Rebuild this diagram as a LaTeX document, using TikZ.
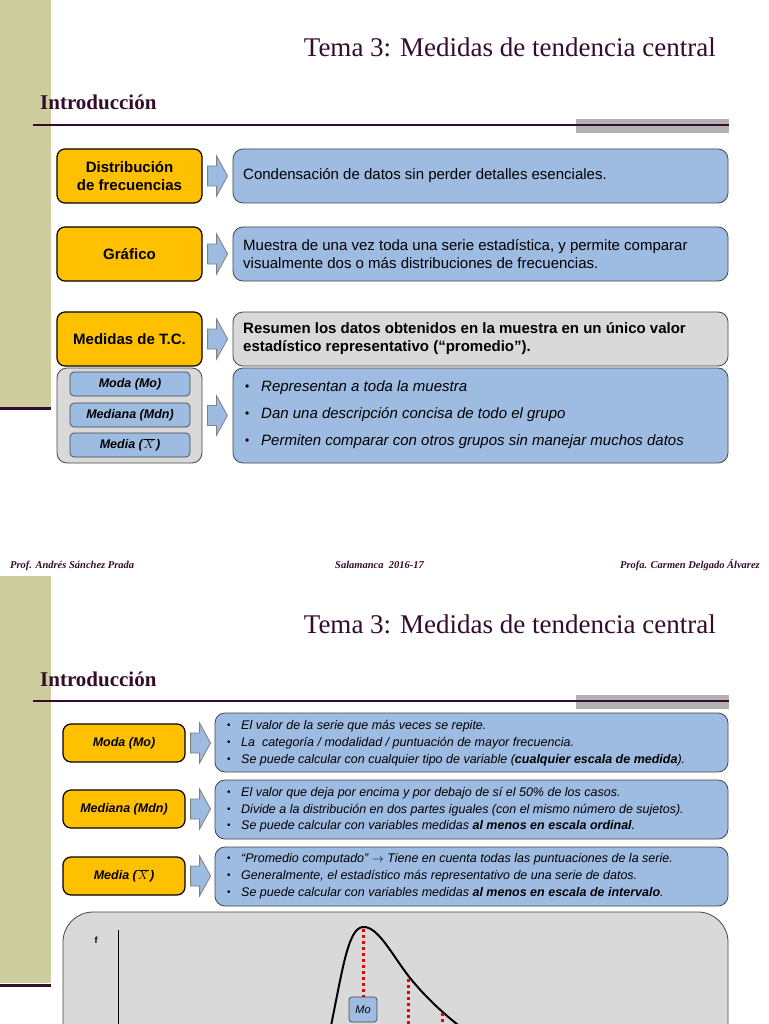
\documentclass[tikz,border=0pt]{standalone}
\usepackage{fontspec}
\setmainfont{Liberation Serif}
\setsansfont{Liberation Sans}
\usetikzlibrary{calc}
\definecolor{olivebar}{RGB}{206,205,157}
\definecolor{plum}{RGB}{52,12,45}
\definecolor{orng}{RGB}{255,192,0}
\definecolor{lblue}{RGB}{158,187,226}
\definecolor{lgray}{RGB}{217,217,217}
\definecolor{bordergray}{RGB}{70,70,70}
\definecolor{bargray}{RGB}{178,178,178}
\definecolor{dotred}{RGB}{235,0,0}
\tikzset{
  obox/.style={draw=black, line width=1.2pt, fill=orng, rounded corners=8pt, inner sep=0pt, align=center, text=black},
  olabel/.style={font=\sffamily\bfseries\fontsize{15}{18}\selectfont},
  olabelsm/.style={font=\sffamily\bfseries\itshape\fontsize{12.5}{15}\selectfont},
  bbox/.style={draw=bordergray, line width=0.8pt, fill=lblue, rounded corners=10pt, inner sep=0pt},
  gbox/.style={draw=bordergray, line width=0.8pt, fill=lgray, rounded corners=10pt, inner sep=0pt},
  sbox/.style={draw=bordergray, line width=0.7pt, fill=lblue, rounded corners=4pt, inner sep=0pt, minimum width=120pt, minimum height=24pt, font=\sffamily\bfseries\itshape\fontsize{12.5}{14}\selectfont},
  txt/.style={inner sep=0pt, anchor=west, align=left, font=\sffamily\fontsize{15}{18}\selectfont},
  btxt/.style={inner sep=0pt, anchor=west, align=left, font=\sffamily\bfseries\fontsize{15}{18}\selectfont},
  itxt/.style={inner sep=0pt, anchor=west, font=\sffamily\itshape\fontsize{15}{17}\selectfont},
  bul/.style={inner sep=0pt, anchor=west, font=\sffamily\fontsize{12}{14}\selectfont},
  sitxt/.style={inner sep=0pt, anchor=west, font=\sffamily\itshape\fontsize{12.5}{14}\selectfont},
  sbul/.style={inner sep=0pt, anchor=west, font=\sffamily\fontsize{10}{12}\selectfont},
  barrowstyle/.style={draw=gray, line width=0.8pt, fill=lblue},
  titlefont/.style={inner sep=0pt, text=plum, font=\fontsize{27}{30}\selectfont},
  introfont/.style={inner sep=0pt, text=plum, font=\bfseries\fontsize{21}{24}\selectfont},
  footfont/.style={inner sep=0pt, text=plum, font=\bfseries\itshape\fontsize{10.5}{12}\selectfont},
  plumline/.style={draw=plum, line width=2pt},
  reddot/.style={draw=dotred, line width=3pt, dash pattern=on 3pt off 3pt},
}
\newcommand\blockarr[1]{\draw[barrowstyle] ($(#1.east)+(5,-10)$) -- ++(9,0) -- ++(0,-10) -- ++(11,20) -- ++(-11,20) -- ++(0,-10) -- ++(-9,0) -- cycle;}
\newcommand\xbar{\kern1pt$\overline{X}$\kern1.5pt}
\begin{document}
\begin{tikzpicture}[x=1pt,y=-1pt]
\useasboundingbox (0,0) rectangle (768,1024);
\clip (0,0) rectangle (768,1024);
\fill[white] (0,0) rectangle (768,1024);

% ---------- slide 1 header ----------
\fill[olivebar] (0,0) rectangle (51,407);
\draw[plumline, line width=3pt] (0,408) -- (51,408);
\node[titlefont, anchor=base east] (title1) at (716,57) {Tema 3: Medidas de tendencia central};
\node[introfont, anchor=base west] (intro1) at (40,110) {Introducción};
\fill[bargray] (576,119) rectangle (729,133);
\draw[plumline] (33,125) -- (729,125);

% ---------- slide 1 boxes ----------
\node[obox, olabel, minimum width=145pt, minimum height=54pt] (dist) at (129.5,176) {Distribución\\de frecuencias};
\node[bbox, minimum width=495pt, minimum height=54pt] (cond) at (480.5,176) {};
\node[txt] (condt) at (243,176) {Condensación de datos sin perder detalles esenciales.};
\blockarr{dist}

\node[obox, olabel, minimum width=145pt, minimum height=54pt] (graf) at (129.5,254) {Gráfico};
\node[bbox, minimum width=495pt, minimum height=54pt] (muestra) at (480.5,254) {};
\node[txt] (muestrat) at (243,254) {Muestra de una vez toda una serie estadística, y permite comparar\\visualmente dos o más distribuciones de frecuencias.};
\blockarr{graf}

\node[obox, olabel, minimum width=145pt, minimum height=54pt] (medtc) at (129.5,339) {Medidas de T.C.};
\node[gbox, minimum width=495pt, minimum height=54pt] (resumen) at (480.5,339) {};
\node[btxt] (resument) at (243,339) {Resumen los datos obtenidos en la muestra en un único valor\\estadístico representativo (“promedio”).};
\blockarr{medtc}

\node[gbox, minimum width=145pt, minimum height=95pt] (cont) at (129.5,415.5) {};
\node[sbox] (smoda) at (130,384) {Moda (Mo)};
\node[sbox] (smediana) at (130,415) {Mediana (Mdn)};
\node[sbox] (smedia) at (130,445) {Media (\xbar)};
\node[bbox, minimum width=495pt, minimum height=95pt] (bulbox) at (480.5,415.5) {};
\blockarr{cont}
\node[bul] (b1) at (245,388) {•};
\node[itxt] (b1t) at (261,388) {Representan a toda la muestra};
\node[bul] (b2) at (245,415) {•};
\node[itxt] (b2t) at (261,415) {Dan una descripción concisa de todo el grupo};
\node[bul] (b3) at (245,442) {•};
\node[itxt] (b3t) at (261,442) {Permiten comparar con otros grupos sin manejar muchos datos};

% ---------- footer ----------
\node[footfont, anchor=base west] (f1) at (10,568) {Prof. Andrés Sánchez Prada};
\node[footfont, anchor=base west] (f2) at (335,568) {Salamanca\ \ 2016-17};
\node[footfont, anchor=base east] (f3) at (760,568) {Profa. Carmen Delgado Álvarez};

% ---------- slide 2 header ----------
\fill[olivebar] (0,576) rectangle (51,983);
\draw[plumline, line width=3pt] (0,985) -- (51,985);
\node[titlefont, anchor=base east] (title2) at (716,633) {Tema 3: Medidas de tendencia central};
\node[introfont, anchor=base west] (intro2) at (40,686) {Introducción};
\fill[bargray] (576,695) rectangle (729,709);
\draw[plumline] (33,701) -- (729,701);

% ---------- slide 2 boxes ----------
\node[obox, olabelsm, minimum width=122pt, minimum height=38pt] (moda) at (124,743) {Moda (Mo)};
\node[bbox, minimum width=513pt, minimum height=59pt] (modab) at (471.5,742.5) {};
\blockarr{moda}
\node[sbul] (m1) at (227,726) {•};
\node[sitxt] (m1t) at (241,726) {El valor de la serie que más veces se repite.};
\node[sbul] (m2) at (227,743) {•};
\node[sitxt] (m2t) at (241,743) {La\ \ categoría / modalidad / puntuación de mayor frecuencia.};
\node[sbul] (m3) at (227,760) {•};
\node[sitxt] (m3t) at (241,760) {Se puede calcular con cualquier tipo de variable (\textbf{cualquier escala de medida}).};

\node[obox, olabelsm, minimum width=122pt, minimum height=38pt] (mediana) at (124,809) {Mediana (Mdn)};
\node[bbox, minimum width=513pt, minimum height=59pt] (medianab) at (471.5,809.5) {};
\blockarr{mediana}
\node[sbul] (d1) at (227,793) {•};
\node[sitxt] (d1t) at (241,793) {El valor que deja por encima y por debajo de sí el 50\% de los casos.};
\node[sbul] (d2) at (227,810) {•};
\node[sitxt] (d2t) at (241,810) {Divide a la distribución en dos partes iguales (con el mismo número de sujetos).};
\node[sbul] (d3) at (227,826) {•};
\node[sitxt] (d3t) at (241,826) {Se puede calcular con variables medidas \textbf{al menos en escala ordinal}.};

\node[obox, olabelsm, minimum width=122pt, minimum height=38pt] (media) at (124,876) {Media (\xbar)};
\node[bbox, minimum width=513pt, minimum height=59pt] (mediab) at (471.5,876.5) {};
\blockarr{media}
\node[sbul] (e1) at (227,859) {•};
\node[sitxt] (e1t) at (241,859) {“Promedio computado” $\rightarrow$ Tiene en cuenta todas las puntuaciones de la serie.};
\node[sbul] (e2) at (227,876) {•};
\node[sitxt] (e2t) at (241,876) {Generalmente, el estadístico más representativo de una serie de datos.};
\node[sbul] (e3) at (227,893) {•};
\node[sitxt] (e3t) at (241,893) {Se puede calcular con variables medidas \textbf{al menos en escala de intervalo}.};

% ---------- graph ----------
\node[draw=bordergray, line width=0.8pt, fill=lgray, rounded corners=30pt, inner sep=0pt, minimum width=665pt, minimum height=170pt] (graph) at (395.5,997) {};
\node[inner sep=0pt, font=\sffamily\bfseries\fontsize{9}{11}\selectfont] (flabel) at (96,940) {f};
\coordinate (axtop) at (118,930);
\coordinate (axbot) at (118,1030);
\draw[black, line width=1pt] (axtop) -- (axbot);
\draw[black, line width=2pt] (328,1040) .. controls (342,975) and (347,928) .. (363,927)
  .. controls (378,926) and (392,955) .. (410,978)
  .. controls (428,1000) and (448,1018) .. (470,1034);
\coordinate (mo1) at (363,929); \coordinate (mo2) at (363,1030);
\coordinate (md1) at (408,979); \coordinate (md2) at (408,1030);
\coordinate (me1) at (442,1013); \coordinate (me2) at (442,1030);
\draw[reddot] (mo1) -- (mo2);
\draw[reddot] (md1) -- (md2);
\draw[reddot] (me1) -- (me2);
\node[draw=bordergray, line width=0.7pt, fill=lblue, rounded corners=3pt, inner sep=0pt, minimum width=28pt, minimum height=25pt, font=\sffamily\itshape\fontsize{11}{13}\selectfont] (mobox) at (363,1009.5) {Mo};
\end{tikzpicture}
\end{document}
